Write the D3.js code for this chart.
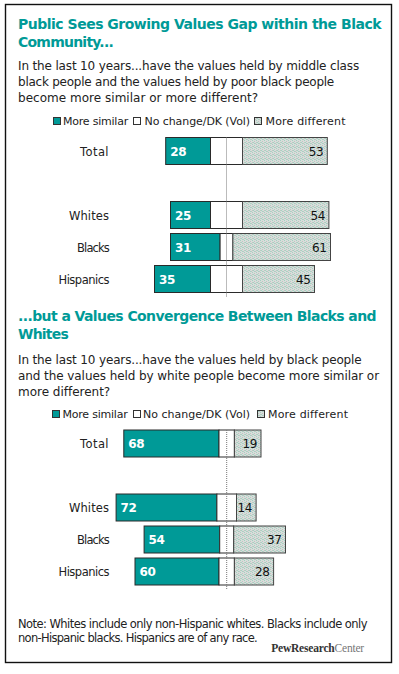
<!DOCTYPE html>
<html>
<head>
<meta charset="utf-8">
<script src="https://cdn.jsdelivr.net/npm/d3@7"></script>
<style>
  html, body { margin: 0; padding: 0; background: #fff; }
  svg { display: block; }
  text { font-family: "DejaVu Sans", Verdana, sans-serif; }
</style>
</head>
<body>
<svg id="chart" width="399" height="674"></svg>
<script>
// ---------------- DATA ----------------
const categories = ["Total", "Whites", "Blacks", "Hispanics"];

// Chart 1: middle class vs poor black people
const c1Similar   = [28, 25, 31, 35];
const c1NoChange  = [20, 20, 8, 20];
const c1Different = [53, 54, 61, 45];

// Chart 2: black vs white people
const c2Similar   = [68, 72, 54, 60];
const c2NoChange  = [11, 14, 10, 11];
const c2Different = [19, 14, 37, 28];

const legendLabels = ["More similar", "No change/DK (Vol)", "More different"];

const c1Title = ["Public Sees Growing Values Gap within the Black", "Community..."];
const c1Question = ["In the last 10 years...have the values held by middle class",
                    "black people and the values held by poor black people",
                    "become more similar or more different?"];
const c2Title = ["...but a Values Convergence Between Blacks and", "Whites"];
const c2Question = ["In the last 10 years...have the values held by black people",
                    "and the values held by white people become more similar or",
                    "more different?"];
const noteLines = ["Note: Whites include only non-Hispanic whites. Blacks include only",
                   "non-Hispanic blacks. Hispanics are of any race."];

// ---------------- STYLE / LAYOUT ----------------
const TEAL = "#009a97";
const TEXT = "#222";
const svg = d3.select("#chart");

const defs = svg.append("defs");
const pat = defs.append("pattern").attr("id", "stripe")
  .attr("width", 4).attr("height", 4).attr("patternUnits", "userSpaceOnUse");
pat.append("rect").attr("width", 4).attr("height", 4).attr("fill", "#d9dcda");
[[0,0],[2,1],[1,2],[3,3],[2,3],[0,2]].forEach(([px, py], i) => {
  pat.append("rect").attr("x", px).attr("y", py).attr("width", 1).attr("height", 1)
    .attr("fill", i % 2 ? "#bcc8c2" : "#a2d4c3");
});

// outer frame
svg.append("rect").attr("x", 5.5).attr("y", 4.5).attr("width", 386).attr("height", 658)
  .attr("fill", "none").attr("stroke", "#111").attr("stroke-width", 1.4);

// adjust letter-spacing so a line spans roughly the width seen in the reference
function fit(sel, target, lo = -1.0, hi = 0.5) {
  sel.each(function() {
    const w = this.getComputedTextLength();
    const n = this.textContent.length;
    let ls = (target - w) / n;
    ls = Math.max(lo, Math.min(hi, ls));
    d3.select(this).attr("letter-spacing", ls.toFixed(3));
  });
}

function textBlock(lines, x, y0, dy, size, weight, color, targets) {
  lines.forEach((t, i) => {
    const el = svg.append("text").attr("x", x).attr("y", y0 + i * dy)
      .attr("font-size", size).attr("font-weight", weight).attr("fill", color).text(t);
    if (targets && targets[i]) fit(el, targets[i]);
  });
}

function legend(y, items) {
  const fills = [TEAL, "#fff", "url(#stripe)"];
  items.forEach((it, i) => {
    svg.append("rect").attr("x", it.sx + 0.5).attr("y", y - 7.5).attr("width", 7).attr("height", 7)
      .attr("fill", fills[i]).attr("stroke", "#333").attr("stroke-width", 1);
    const el = svg.append("text").attr("x", it.tx).attr("y", y).attr("font-size", 11)
      .attr("fill", TEXT).text(legendLabels[i]);
    fit(el, it.tw);
  });
}

function barChart(cfg) {
  const x = d3.scaleLinear().domain([-50, 50]).range([cfg.cx - 50 * cfg.k, cfg.cx + 50 * cfg.k]);
  const rows = ["Total", "gap", "Whites", "Blacks", "Hispanics"];
  const y = d3.scaleBand().domain(rows).range([cfg.top, cfg.top + rows.length * cfg.step])
    .paddingInner(1 - cfg.barH / cfg.step).paddingOuter((1 - cfg.barH / cfg.step) / 2);

  const data = categories.map((c, i) => ({
    cat: c, sim: cfg.sim[i], nc: cfg.nc[i], diff: cfg.diff[i]
  }));

  const g = svg.append("g");
  const bars = g.selectAll("g.bar").data(data).join("g").attr("class", "bar");

  bars.append("rect")
    .attr("x", d => x(-d.nc / 2 - d.sim)).attr("y", d => y(d.cat))
    .attr("width", d => x(-d.nc / 2) - x(-d.nc / 2 - d.sim)).attr("height", y.bandwidth())
    .attr("fill", TEAL).attr("stroke", "#2a2a2a").attr("stroke-width", 1);
  bars.append("rect")
    .attr("x", d => x(-d.nc / 2)).attr("y", d => y(d.cat))
    .attr("width", d => x(d.nc / 2) - x(-d.nc / 2)).attr("height", y.bandwidth())
    .attr("fill", "#fff").attr("stroke", "#2a2a2a").attr("stroke-width", 1);
  bars.append("rect")
    .attr("x", d => x(d.nc / 2)).attr("y", d => y(d.cat))
    .attr("width", d => x(d.nc / 2 + d.diff) - x(d.nc / 2)).attr("height", y.bandwidth())
    .attr("fill", "url(#stripe)").attr("stroke", "#444").attr("stroke-width", 1);

  // center reference line
  g.append("line").attr("x1", x(0)).attr("x2", x(0))
    .attr("y1", y("Total")).attr("y2", y("Hispanics") + y.bandwidth() + 5)
    .attr("stroke", "#777").attr("stroke-width", 1).attr("stroke-dasharray", "1,1");

  const mid = d => y(d.cat) + y.bandwidth() / 2 + 4.5;
  bars.append("text").attr("x", d => x(-d.nc / 2 - d.sim) + 4.5).attr("y", mid)
    .attr("font-size", 12).attr("font-weight", "bold").attr("fill", "#fff")
    .attr("letter-spacing", -0.4)
    .text(d => d.sim);
  bars.append("text").attr("x", d => x(d.nc / 2 + d.diff) - 4).attr("y", mid)
    .attr("text-anchor", "end").attr("font-size", 12).attr("fill", "#111")
    .attr("letter-spacing", -0.4)
    .text(d => d.diff);

  // category labels
  const labelW = {Total: 29, Whites: 40, Blacks: 32, Hispanics: 50.5};
  bars.append("text").attr("x", 109).attr("y", mid)
    .attr("text-anchor", "end").attr("font-size", 11.5).attr("fill", TEXT)
    .text(d => d.cat)
    .each(function(d) { fit(d3.select(this), labelW[d.cat]); });
}

// ---------- Chart 1 ----------
textBlock(c1Title, 18, 28.5, 18, 14, "bold", TEAL, [363, 95]);
textBlock(c1Question, 18, 69.5, 16, 12, "normal", TEXT, [341, 316, 240]);
legend(125, [
  {sx: 53, tx: 63, tw: 65},
  {sx: 133, tx: 144.5, tw: 105.5},
  {sx: 254, tx: 265.5, tw: 80}
]);
barChart({cx: 226.5, k: 1.6, top: 137.5 - 2.5, step: 32, barH: 27,
          sim: c1Similar, nc: c1NoChange, diff: c1Different});

// ---------- Chart 2 ----------
textBlock(c2Title, 18, 321, 18, 14, "bold", TEAL, [358, 50]);
textBlock(c2Question, 18, 363.5, 16, 12, "normal", TEXT, [343.5, 361, 92]);
legend(418, [
  {sx: 52, tx: 62.5, tw: 65},
  {sx: 133, tx: 143, tw: 107},
  {sx: 257, tx: 268, tw: 80}
]);
barChart({cx: 226.7, k: 1.4, top: 430 - 2.5, step: 32, barH: 27,
          sim: c2Similar, nc: c2NoChange, diff: c2Different});

// ---------- Note ----------
textBlock(noteLines, 18, 627.5, 14.5, 11.5, "normal", TEXT, [349, 239]);

const pew = svg.append("text").attr("x", 364).attr("y", 652).attr("text-anchor", "end")
  .style("font-family", "'Liberation Serif', 'DejaVu Serif', serif").attr("font-size", 11.5)
  .attr("letter-spacing", -0.2);
pew.append("tspan").attr("font-weight", "bold").attr("fill", "#333").text("PewResearch");
pew.append("tspan").attr("fill", "#777").text("Center");
</script>
</body>
</html>
